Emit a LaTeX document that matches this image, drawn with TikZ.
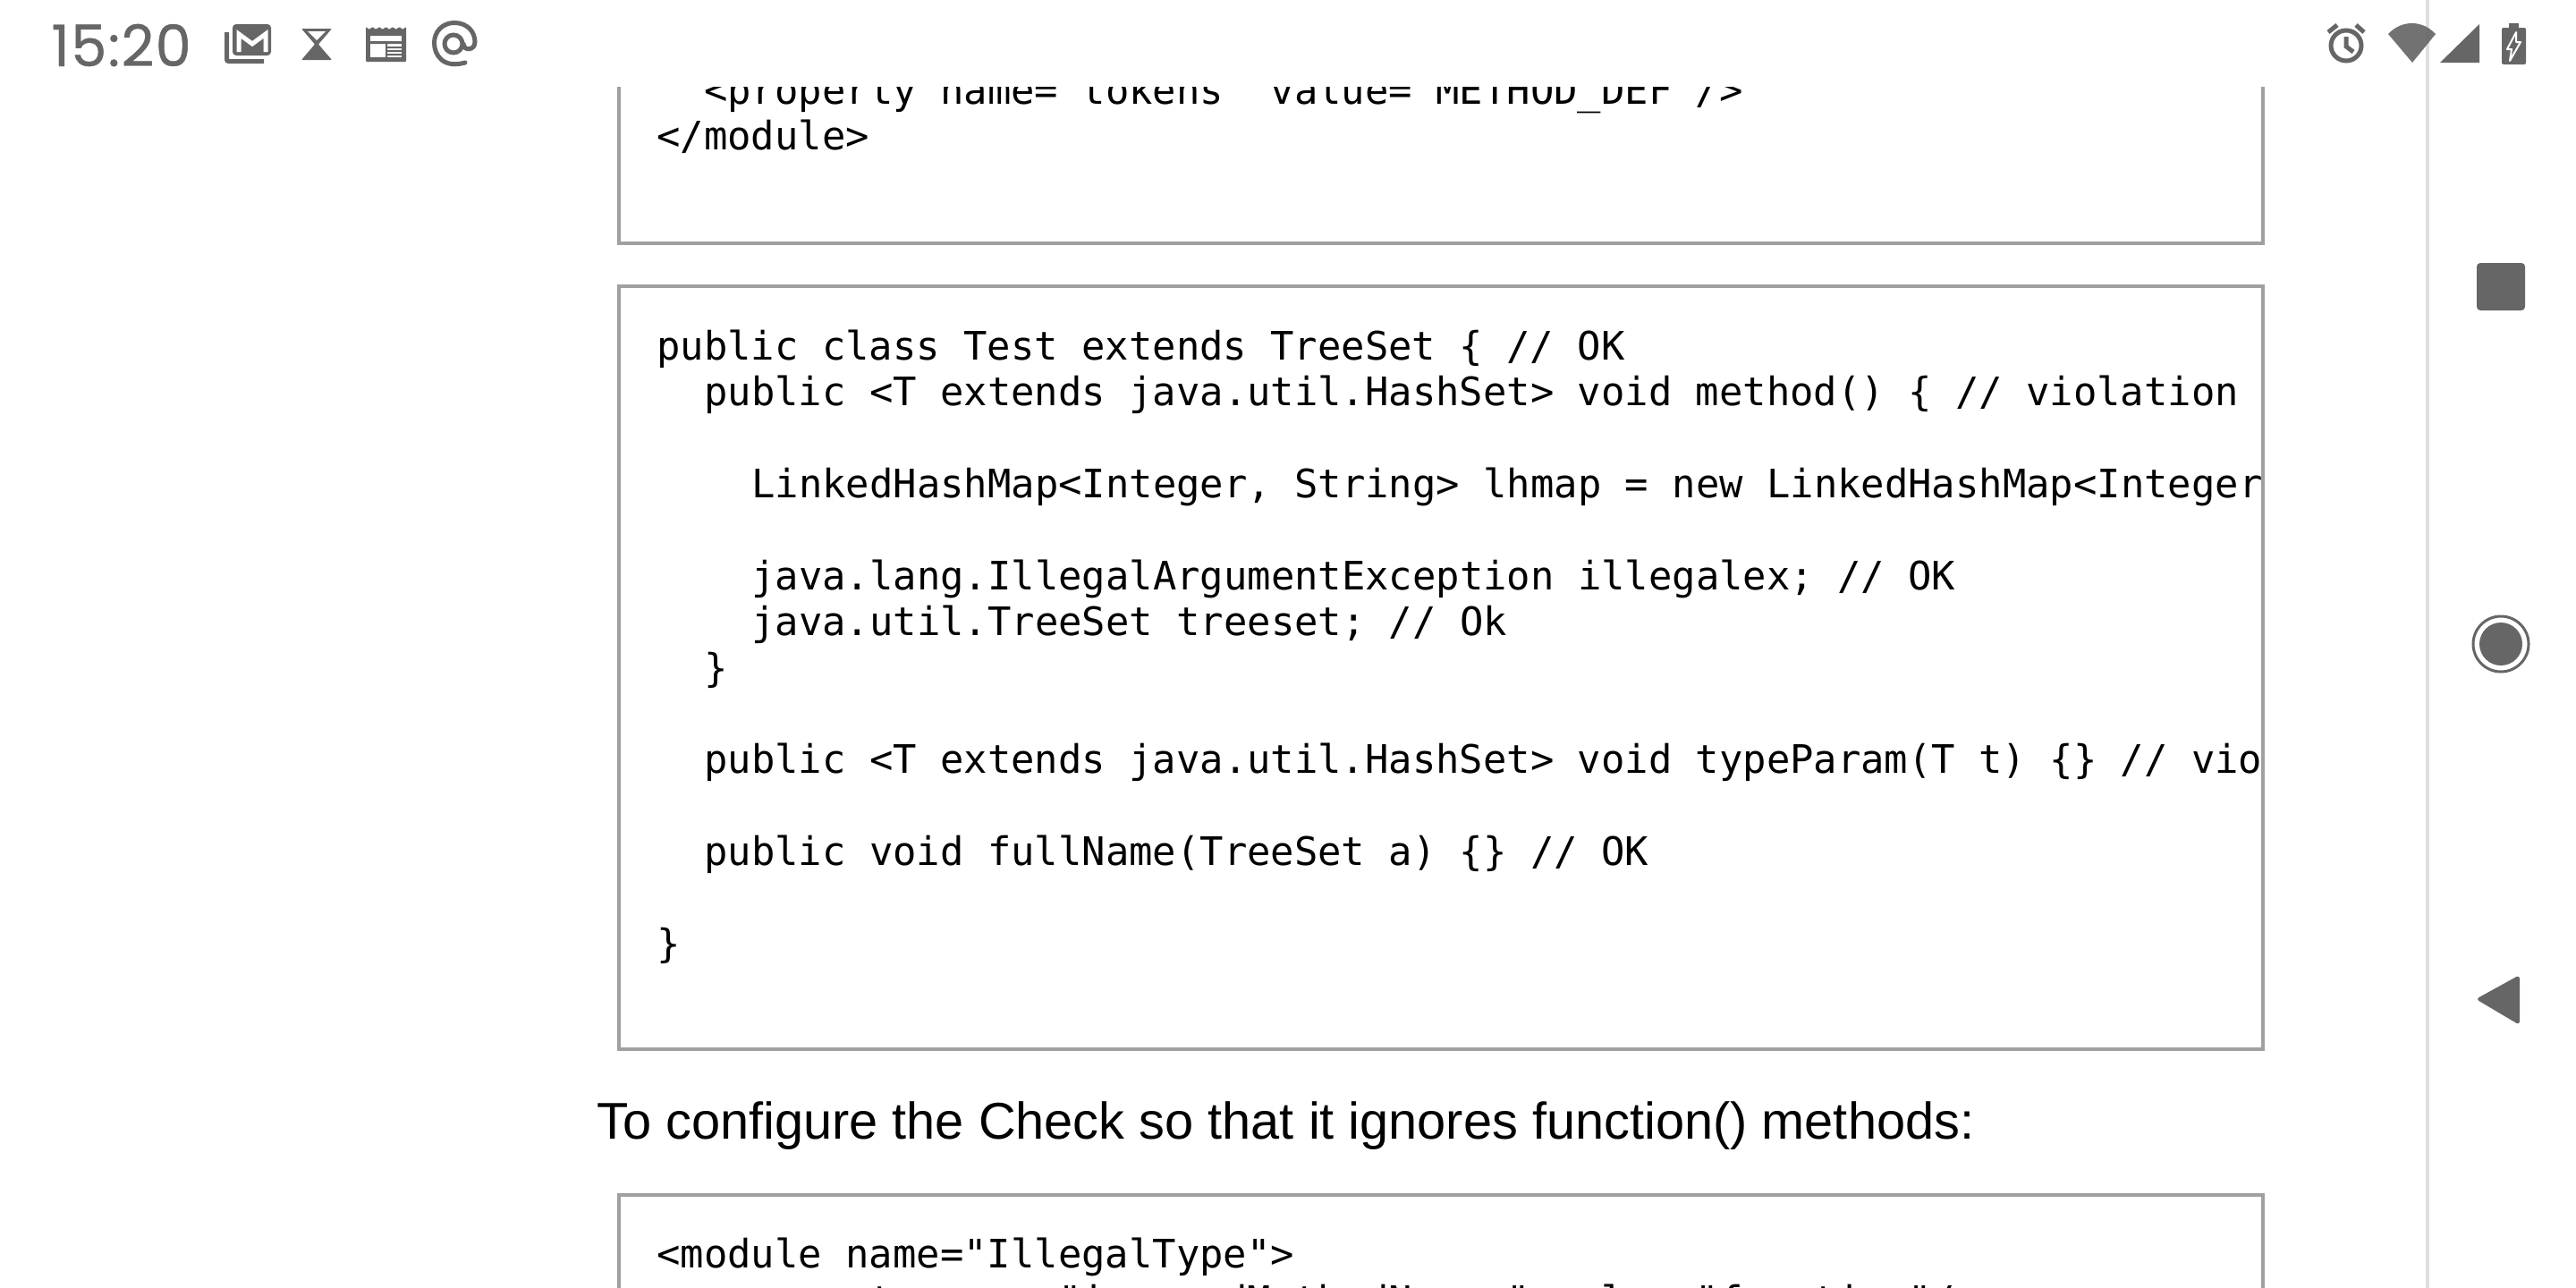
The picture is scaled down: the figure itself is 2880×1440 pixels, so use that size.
\documentclass[tikz,border=0pt]{standalone}
\usepackage{fontspec}
\setmainfont{Liberation Sans}
\newfontfamily\codefont{DejaVu Sans Mono}
\newfontfamily\clockfont[FakeBold=0.6,LetterSpace=2]{Poppins}
\definecolor{framegray}{HTML}{A0A0A0}
\definecolor{icongray}{HTML}{666666}
\definecolor{railgray}{HTML}{DEDEDE}
\tikzset{
  codeframe/.style={draw=framegray, line width=1.8pt, fill=white}, % the boxes round the listings
  codeline/.style={anchor=base west, inner sep=0pt, font=\codefont\fontsize{21.92}{26}\selectfont},
  prose/.style={anchor=base west, inner sep=0pt, font=\fontsize{28.86}{34}\selectfont},
  icon/.style={fill=icongray, draw=none},
  iconline/.style={draw=icongray, line width=2.5pt, fill=none},
}
\begin{document}
\begin{tikzpicture}[x=0.5pt,y=-0.5pt]
	  \useasboundingbox (0,0) rectangle (2880,1440);
	  \fill[white] (0,0) rectangle (2880,1440);

	  % listing that runs under the status bar
	  \begin{scope}
	  \clip (0,97) rectangle (2880,1440);
	  \draw[codeframe] (692,60) rectangle (2530,272);
	  \node[codeline] (propline) at (787,116) {<property name="tokens" value="METHOD\_DEF"/>};
	  \node[codeline] (modend) at (734,167) {</module>};
	  \end{scope}

	  % main listing
	  \draw[codeframe] (692,320) rectangle (2530,1173);
	  \node[codeline] (l1) at (734,402) {public class Test extends TreeSet \{ // OK};
	  \node[codeline] (l2) at (787,453) {public <T extends java.util.HashSet> void method() \{ // violation};
	  \node[codeline] (l3) at (840,556) {LinkedHashMap<Integer, String> lhmap = new LinkedHashMap<Integer};
	  \node[codeline] (l4) at (840,659) {java.lang.IllegalArgumentException illegalex; // OK};
	  \node[codeline] (l5) at (840,710) {java.util.TreeSet treeset; // Ok};
	  \node[codeline] (l6) at (787,762) {\}};
	  \node[codeline] (l7) at (787,864) {public <T extends java.util.HashSet> void typeParam(T t) \{\} // vio};
	  \node[codeline] (l8) at (787,967) {public void fullName(TreeSet a) \{\} // OK};
	  \node[codeline] (l9) at (734,1070) {\}};

	  \node[prose] (configtext) at (667,1273) {To configure the Check so that it ignores function() methods:};

	  % last listing, cut by the page
	  \draw[codeframe] (692,1336) rectangle (2530,1500);
	  \node[codeline] (modstart) at (734,1417) {<module name="IllegalType">};
	  \node[codeline] (ignoreline) at (787,1469) {<property name="ignoredMethodNames" value="function"/>};

	  % navigation rail
	  \fill[railgray] (2712,0) rectangle (2716,1440);
	  \fill[icon, rounded corners=2pt] (2769,294) rectangle (2823,347);
	  \fill[icon] (2796,720) circle (24);
	  \draw[iconline, line width=1.5pt] (2796,720) circle (31);
	  \fill[icon, rounded corners=2pt] (2768,1117) -- (2817,1090) -- (2817,1146) -- cycle;

	  % status bar, left
	  \node[anchor=base west, inner sep=0pt, text=icongray, font=\clockfont\fontsize{32}{36}\selectfont] (clock) at (57,74) {15:20};
	  \draw[iconline, rounded corners=1pt] (253.5,36) -- (253.5,68.5) -- (295,68.5);
	  \fill[icon, rounded corners=2pt] (260,27) rectangle (303,62);
	  \draw[white, line width=2.5pt] (267,58) -- (267,38) -- (282,49) -- (297,38) -- (297,58);
	  \fill[icon, rounded corners=0.5pt] (337,32) -- (371,32) -- (356,49.5) -- (371,67) -- (337,67) -- (352,49.5) -- cycle;
	  \fill[white] (344,35) -- (364,35) -- (354,45) -- cycle;
	  % newspaper with its torn edge
	  \fill[icon, rounded corners=0.5pt] (409,69) -- (409,30) \foreach \tooth in {1,...,6} {-- ++(3.75,3) -- ++(3.75,-3)} -- (454,69) -- cycle;
	  \fill[white] (414,40) rectangle (449,64);
	  \fill[icon] (414,46) rectangle (449,49) (431,49) rectangle (433,64);
	  \fill[icon] (433,52) rectangle (449,54) (433,56) rectangle (449,58) (433,60) rectangle (449,62);
	  % at sign
	  \draw[iconline] (507,49) circle (10);
	  \draw[iconline, line cap=round] (520,70) .. controls (496,77) and (485.5,62) .. (485.5,48) .. controls (485.5,35) and (495,25.5) .. (508,25.5) .. controls (522,25.5) and (531,35) .. (531,47) .. controls (531,56) and (519,58) .. (518,49);

	  % status bar, right
	  \draw[iconline] (2623,51) circle (17);
	  \draw[iconline] (2623,41) -- (2623,52) -- (2631,58);
	  \draw[iconline] (2603,36) -- (2613,28);
	  \draw[iconline] (2643,36) -- (2634,28);
	  \fill[icon, fill opacity=.92] (2670,38) .. controls (2685,22) and (2708,22) .. (2723,38) -- (2697,70) -- cycle;
	  \fill[icon] (2772,27) -- (2772,70) -- (2728,70) -- cycle;
	  \fill[icon, rounded corners=1pt] (2797,31) rectangle (2824,72);
	  \fill[icon] (2805,26) rectangle (2816,32);
	  \draw[white, line width=1pt, fill=icongray, line join=round] (2813,36) -- (2803,55) -- (2808,55) -- (2806,68) -- (2818,47) -- (2813,47) -- cycle;
\end{tikzpicture}
\end{document}
